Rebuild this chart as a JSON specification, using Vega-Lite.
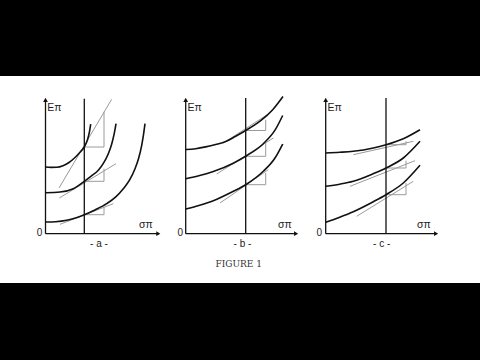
{
  "$schema": "https://vega.github.io/schema/vega-lite/v6.json",
  "background": "black",
  "padding": {"top": 76, "bottom": 77, "left": 0, "right": 0},
  "spacing": 0,
  "bounds": "flush",
  "config": {"view": {"fill": "white", "stroke": null}},
  "resolve": {"scale": {"x": "independent", "y": "independent"}},
  "datasets": {
    "curves": [
      {"panel": "a", "c": 1, "x": 0, "y": 6.67}, {"panel": "a", "c": 1, "x": 0.55, "y": 6.63}, {"panel": "a", "c": 1, "x": 1.15, "y": 6.64}, {"panel": "a", "c": 1, "x": 1.75, "y": 6.8}, {"panel": "a", "c": 1, "x": 2.35, "y": 7.12}, {"panel": "a", "c": 1, "x": 2.95, "y": 7.62}, {"panel": "a", "c": 1, "x": 3.45, "y": 8.15}, {"panel": "a", "c": 1, "x": 3.88, "y": 8.67}, {"panel": "a", "c": 1, "x": 4.2, "y": 9.4}, {"panel": "a", "c": 1, "x": 4.4, "y": 10.2}, {"panel": "a", "c": 1, "x": 4.52, "y": 10.95},
      {"panel": "a", "c": 2, "x": 0, "y": 4.1}, {"panel": "a", "c": 2, "x": 1.45, "y": 4.17}, {"panel": "a", "c": 2, "x": 2.78, "y": 4.5}, {"panel": "a", "c": 2, "x": 3.88, "y": 5.24}, {"panel": "a", "c": 2, "x": 4.6, "y": 5.78}, {"panel": "a", "c": 2, "x": 5.28, "y": 6.34}, {"panel": "a", "c": 2, "x": 5.8, "y": 7.05}, {"panel": "a", "c": 2, "x": 6.28, "y": 8.0}, {"panel": "a", "c": 2, "x": 6.6, "y": 8.9}, {"panel": "a", "c": 2, "x": 6.85, "y": 9.9}, {"panel": "a", "c": 2, "x": 7.05, "y": 11.0},
      {"panel": "a", "c": 3, "x": 0, "y": 1.17}, {"panel": "a", "c": 3, "x": 1.0, "y": 1.2}, {"panel": "a", "c": 3, "x": 2.12, "y": 1.34}, {"panel": "a", "c": 3, "x": 3.0, "y": 1.57}, {"panel": "a", "c": 3, "x": 3.88, "y": 1.9}, {"panel": "a", "c": 3, "x": 5.0, "y": 2.4}, {"panel": "a", "c": 3, "x": 6.12, "y": 3.0}, {"panel": "a", "c": 3, "x": 7.0, "y": 3.65}, {"panel": "a", "c": 3, "x": 7.78, "y": 4.5}, {"panel": "a", "c": 3, "x": 8.4, "y": 5.35}, {"panel": "a", "c": 3, "x": 8.95, "y": 6.5}, {"panel": "a", "c": 3, "x": 9.3, "y": 7.5}, {"panel": "a", "c": 3, "x": 9.62, "y": 8.84}, {"panel": "a", "c": 3, "x": 9.8, "y": 9.9}, {"panel": "a", "c": 3, "x": 9.95, "y": 11.0},
      {"panel": "b", "c": 1, "x": 0, "y": 8.42}, {"panel": "b", "c": 1, "x": 1, "y": 8.5}, {"panel": "b", "c": 1, "x": 2, "y": 8.68}, {"panel": "b", "c": 1, "x": 3, "y": 8.92}, {"panel": "b", "c": 1, "x": 4, "y": 9.22}, {"panel": "b", "c": 1, "x": 5, "y": 9.75}, {"panel": "b", "c": 1, "x": 6, "y": 10.32}, {"panel": "b", "c": 1, "x": 7.5, "y": 11.3}, {"panel": "b", "c": 1, "x": 8.7, "y": 12.4}, {"panel": "b", "c": 1, "x": 9.73, "y": 13.72},
      {"panel": "b", "c": 2, "x": 0, "y": 5.5}, {"panel": "b", "c": 2, "x": 1.4, "y": 5.82}, {"panel": "b", "c": 2, "x": 2.76, "y": 6.22}, {"panel": "b", "c": 2, "x": 4.76, "y": 7.05}, {"panel": "b", "c": 2, "x": 6, "y": 7.74}, {"panel": "b", "c": 2, "x": 7.76, "y": 9.0}, {"panel": "b", "c": 2, "x": 8.93, "y": 10.35}, {"panel": "b", "c": 2, "x": 9.7, "y": 11.82},
      {"panel": "b", "c": 3, "x": 0, "y": 2.47}, {"panel": "b", "c": 3, "x": 1.4, "y": 2.85}, {"panel": "b", "c": 3, "x": 2.76, "y": 3.3}, {"panel": "b", "c": 3, "x": 4.76, "y": 4.24}, {"panel": "b", "c": 3, "x": 6, "y": 4.9}, {"panel": "b", "c": 3, "x": 7.76, "y": 6.24}, {"panel": "b", "c": 3, "x": 8.93, "y": 7.57}, {"panel": "b", "c": 3, "x": 9.7, "y": 8.97},
      {"panel": "c", "c": 1, "x": 0, "y": 8.07}, {"panel": "c", "c": 1, "x": 1.4, "y": 8.14}, {"panel": "c", "c": 1, "x": 2.76, "y": 8.24}, {"panel": "c", "c": 1, "x": 4.76, "y": 8.57}, {"panel": "c", "c": 1, "x": 6.03, "y": 8.9}, {"panel": "c", "c": 1, "x": 7.76, "y": 9.5}, {"panel": "c", "c": 1, "x": 9.43, "y": 10.4},
      {"panel": "c", "c": 2, "x": 0, "y": 4.74}, {"panel": "c", "c": 2, "x": 1.4, "y": 4.95}, {"panel": "c", "c": 2, "x": 2.76, "y": 5.24}, {"panel": "c", "c": 2, "x": 4.76, "y": 6.0}, {"panel": "c", "c": 2, "x": 6.03, "y": 6.57}, {"panel": "c", "c": 2, "x": 7.76, "y": 7.57}, {"panel": "c", "c": 2, "x": 9.43, "y": 9.24},
      {"panel": "c", "c": 3, "x": 0, "y": 1.14}, {"panel": "c", "c": 3, "x": 1.4, "y": 1.65}, {"panel": "c", "c": 3, "x": 2.76, "y": 2.2}, {"panel": "c", "c": 3, "x": 4.76, "y": 3.2}, {"panel": "c", "c": 3, "x": 6.03, "y": 3.9}, {"panel": "c", "c": 3, "x": 7.76, "y": 5.07}, {"panel": "c", "c": 3, "x": 9.43, "y": 6.84}
    ],
    "segs": [
      {"panel": "a", "kind": "axis", "x": 0, "y": 0, "x2": 0, "y2": 13.4},
      {"panel": "a", "kind": "axis", "x": 0, "y": 0, "x2": 11.28, "y2": 0},
      {"panel": "a", "kind": "axis", "x": 3.88, "y": 0, "x2": 3.88, "y2": 13.5},
      {"panel": "b", "kind": "axis", "x": 0, "y": 0, "x2": 0, "y2": 13.4},
      {"panel": "b", "kind": "axis", "x": 0, "y": 0, "x2": 11.04, "y2": 0},
      {"panel": "b", "kind": "axis", "x": 6.0, "y": 0, "x2": 6.0, "y2": 13.57},
      {"panel": "c", "kind": "axis", "x": 0, "y": 0, "x2": 0, "y2": 13.4},
      {"panel": "c", "kind": "axis", "x": 0, "y": 0, "x2": 11.04, "y2": 0},
      {"panel": "c", "kind": "axis", "x": 6.03, "y": 0, "x2": 6.03, "y2": 13.57},
      {"panel": "a", "kind": "gray", "x": 1.35, "y": 4.57, "x2": 6.62, "y2": 13.44},
      {"panel": "a", "kind": "gray", "x": 3.88, "y": 8.67, "x2": 5.85, "y2": 8.67},
      {"panel": "a", "kind": "gray", "x": 5.85, "y": 8.67, "x2": 5.85, "y2": 12.2},
      {"panel": "a", "kind": "gray", "x": 1.38, "y": 3.57, "x2": 7.05, "y2": 7.0},
      {"panel": "a", "kind": "gray", "x": 3.88, "y": 5.24, "x2": 5.85, "y2": 5.24},
      {"panel": "a", "kind": "gray", "x": 5.85, "y": 5.24, "x2": 5.85, "y2": 6.5},
      {"panel": "a", "kind": "gray", "x": 1.45, "y": 0.94, "x2": 6.78, "y2": 3.0},
      {"panel": "a", "kind": "gray", "x": 3.88, "y": 1.9, "x2": 5.85, "y2": 1.9},
      {"panel": "a", "kind": "gray", "x": 5.85, "y": 1.9, "x2": 5.85, "y2": 2.67},
      {"panel": "b", "kind": "gray", "x": 3.76, "y": 9.07, "x2": 8.26, "y2": 11.97},
      {"panel": "b", "kind": "gray", "x": 6.0, "y": 10.32, "x2": 8.0, "y2": 10.32},
      {"panel": "b", "kind": "gray", "x": 8.0, "y": 10.32, "x2": 8.0, "y2": 11.4},
      {"panel": "b", "kind": "gray", "x": 3.1, "y": 5.97, "x2": 8.76, "y2": 9.57},
      {"panel": "b", "kind": "gray", "x": 6.0, "y": 7.74, "x2": 8.0, "y2": 7.74},
      {"panel": "b", "kind": "gray", "x": 8.0, "y": 7.74, "x2": 8.0, "y2": 9.07},
      {"panel": "b", "kind": "gray", "x": 3.43, "y": 3.07, "x2": 8.26, "y2": 6.4},
      {"panel": "b", "kind": "gray", "x": 6.0, "y": 4.9, "x2": 8.0, "y2": 4.9},
      {"panel": "b", "kind": "gray", "x": 8.0, "y": 4.9, "x2": 8.0, "y2": 6.07},
      {"panel": "c", "kind": "gray", "x": 2.76, "y": 7.9, "x2": 8.76, "y2": 9.24},
      {"panel": "c", "kind": "gray", "x": 6.03, "y": 8.9, "x2": 8.03, "y2": 8.9},
      {"panel": "c", "kind": "gray", "x": 8.03, "y": 8.9, "x2": 8.03, "y2": 9.24},
      {"panel": "c", "kind": "gray", "x": 2.43, "y": 4.74, "x2": 8.93, "y2": 7.3},
      {"panel": "c", "kind": "gray", "x": 6.03, "y": 6.57, "x2": 8.03, "y2": 6.57},
      {"panel": "c", "kind": "gray", "x": 8.03, "y": 6.57, "x2": 8.03, "y2": 7.3},
      {"panel": "c", "kind": "gray", "x": 3.1, "y": 1.74, "x2": 8.76, "y2": 5.24},
      {"panel": "c", "kind": "gray", "x": 6.03, "y": 3.9, "x2": 8.03, "y2": 3.9},
      {"panel": "c", "kind": "gray", "x": 8.03, "y": 3.9, "x2": 8.03, "y2": 5.07}
    ],
    "arrows": [
      {"panel": "a", "dir": "up", "x": 0, "y": 13.38}, {"panel": "a", "dir": "right", "x": 11.28, "y": 0},
      {"panel": "b", "dir": "up", "x": 0, "y": 13.38}, {"panel": "b", "dir": "right", "x": 11.04, "y": 0},
      {"panel": "c", "dir": "up", "x": 0, "y": 13.38}, {"panel": "c", "dir": "right", "x": 11.04, "y": 0}
    ],
    "texts": [
      {"panel": "a", "kind": "main", "x": 0.18, "y": 12.3, "text": "Eπ"},
      {"panel": "a", "kind": "main", "x": 9.35, "y": 0.57, "text": "σπ"},
      {"panel": "a", "kind": "zero", "x": -0.6, "y": 0.12, "text": "0"}, {"panel": "a", "kind": "label", "x": 5.35, "y": -0.98, "text": "- a -"},
      {"panel": "b", "kind": "main", "x": 0.18, "y": 12.3, "text": "Eπ"},
      {"panel": "b", "kind": "main", "x": 9.23, "y": 0.57, "text": "σπ"},
      {"panel": "b", "kind": "zero", "x": -0.55, "y": 0.12, "text": "0"}, {"panel": "b", "kind": "label", "x": 5.68, "y": -0.98, "text": "- b -"},
      {"panel": "b", "kind": "fig", "x": 5.3, "y": -2.98, "text": "FIGURE 1"},
      {"panel": "c", "kind": "main", "x": 0.18, "y": 12.3, "text": "Eπ"},
      {"panel": "c", "kind": "main", "x": 9.13, "y": 0.57, "text": "σπ"},
      {"panel": "c", "kind": "zero", "x": -0.65, "y": 0.12, "text": "0"}, {"panel": "c", "kind": "label", "x": 5.6, "y": -0.98, "text": "- c -"}
    ]
  },
  "hconcat": [
    {
      "width": 165, "height": 207,
      "encoding": {
        "x": {"field": "x", "type": "quantitative", "axis": null, "scale": {"domain": [-4.55, 11.95], "nice": false, "zero": false}},
        "y": {"field": "y", "type": "quantitative", "axis": null, "scale": {"domain": [-4.93, 15.77], "nice": false, "zero": false}}
      },
      "layer": [
        {"data": {"name": "segs"}, "transform": [{"filter": "datum.panel == 'a' && datum.kind == 'gray'"}], "mark": {"type": "rule", "color": "#9a9a9a", "strokeWidth": 1}, "encoding": {"x2": {"field": "x2"}, "y2": {"field": "y2"}}},
        {"data": {"name": "segs"}, "transform": [{"filter": "datum.panel == 'a' && datum.kind == 'axis'"}], "mark": {"type": "rule", "color": "#111111", "strokeWidth": 1.3}, "encoding": {"x2": {"field": "x2"}, "y2": {"field": "y2"}}},
        {"data": {"name": "curves"}, "transform": [{"filter": "datum.panel == 'a'"}], "mark": {"type": "line", "color": "#111111", "strokeWidth": 1.6, "interpolate": "monotone"}, "encoding": {"detail": {"field": "c", "type": "nominal"}}},
        {"data": {"name": "arrows"}, "transform": [{"filter": "datum.panel == 'a' && datum.dir == 'up'"}], "mark": {"type": "point", "shape": "triangle-up", "filled": true, "color": "#111111", "size": 22, "opacity": 1}},
        {"data": {"name": "arrows"}, "transform": [{"filter": "datum.panel == 'a' && datum.dir == 'right'"}], "mark": {"type": "point", "shape": "triangle-right", "filled": true, "color": "#111111", "size": 22, "opacity": 1}},
        {"data": {"name": "texts"}, "transform": [{"filter": "datum.panel == 'a' && datum.kind == 'main'"}], "mark": {"type": "text", "font": "Liberation Sans", "fontSize": 10.5, "align": "left", "baseline": "alphabetic", "color": "#222222"}, "encoding": {"text": {"field": "text"}}},
        {"data": {"name": "texts"}, "transform": [{"filter": "datum.panel == 'a' && datum.kind == 'zero'"}], "mark": {"type": "text", "font": "Liberation Sans", "fontSize": 10, "align": "center", "baseline": "middle", "color": "#222222"}, "encoding": {"text": {"field": "text"}}},
        {"data": {"name": "texts"}, "transform": [{"filter": "datum.panel == 'a' && datum.kind == 'label'"}], "mark": {"type": "text", "font": "Liberation Sans", "fontSize": 10, "align": "center", "baseline": "middle", "color": "#222222"}, "encoding": {"text": {"field": "text"}}}
      ]
    },
    {
      "width": 140, "height": 207,
      "encoding": {
        "x": {"field": "x", "type": "quantitative", "axis": null, "scale": {"domain": [-2.07, 11.93], "nice": false, "zero": false}},
        "y": {"field": "y", "type": "quantitative", "axis": null, "scale": {"domain": [-4.93, 15.77], "nice": false, "zero": false}}
      },
      "layer": [
        {"data": {"name": "segs"}, "transform": [{"filter": "datum.panel == 'b' && datum.kind == 'gray'"}], "mark": {"type": "rule", "color": "#9a9a9a", "strokeWidth": 1}, "encoding": {"x2": {"field": "x2"}, "y2": {"field": "y2"}}},
        {"data": {"name": "segs"}, "transform": [{"filter": "datum.panel == 'b' && datum.kind == 'axis'"}], "mark": {"type": "rule", "color": "#111111", "strokeWidth": 1.3}, "encoding": {"x2": {"field": "x2"}, "y2": {"field": "y2"}}},
        {"data": {"name": "curves"}, "transform": [{"filter": "datum.panel == 'b'"}], "mark": {"type": "line", "color": "#111111", "strokeWidth": 1.6, "interpolate": "monotone"}, "encoding": {"detail": {"field": "c", "type": "nominal"}}},
        {"data": {"name": "arrows"}, "transform": [{"filter": "datum.panel == 'b' && datum.dir == 'up'"}], "mark": {"type": "point", "shape": "triangle-up", "filled": true, "color": "#111111", "size": 22, "opacity": 1}},
        {"data": {"name": "arrows"}, "transform": [{"filter": "datum.panel == 'b' && datum.dir == 'right'"}], "mark": {"type": "point", "shape": "triangle-right", "filled": true, "color": "#111111", "size": 22, "opacity": 1}},
        {"data": {"name": "texts"}, "transform": [{"filter": "datum.panel == 'b' && datum.kind == 'main'"}], "mark": {"type": "text", "font": "Liberation Sans", "fontSize": 10.5, "align": "left", "baseline": "alphabetic", "color": "#222222"}, "encoding": {"text": {"field": "text"}}},
        {"data": {"name": "texts"}, "transform": [{"filter": "datum.panel == 'b' && datum.kind == 'zero'"}], "mark": {"type": "text", "font": "Liberation Sans", "fontSize": 10, "align": "center", "baseline": "middle", "color": "#222222"}, "encoding": {"text": {"field": "text"}}},
        {"data": {"name": "texts"}, "transform": [{"filter": "datum.panel == 'b' && datum.kind == 'label'"}], "mark": {"type": "text", "font": "Liberation Sans", "fontSize": 10, "align": "center", "baseline": "middle", "color": "#222222"}, "encoding": {"text": {"field": "text"}}},
        {"data": {"name": "texts"}, "transform": [{"filter": "datum.panel == 'b' && datum.kind == 'fig'"}], "mark": {"type": "text", "font": "DejaVu Serif", "fontSize": 9, "align": "center", "baseline": "middle", "color": "#333333"}, "encoding": {"text": {"field": "text"}}}
      ]
    },
    {
      "width": 175, "height": 207,
      "encoding": {
        "x": {"field": "x", "type": "quantitative", "axis": null, "scale": {"domain": [-2.07, 15.43], "nice": false, "zero": false}},
        "y": {"field": "y", "type": "quantitative", "axis": null, "scale": {"domain": [-4.93, 15.77], "nice": false, "zero": false}}
      },
      "layer": [
        {"data": {"name": "segs"}, "transform": [{"filter": "datum.panel == 'c' && datum.kind == 'gray'"}], "mark": {"type": "rule", "color": "#9a9a9a", "strokeWidth": 1}, "encoding": {"x2": {"field": "x2"}, "y2": {"field": "y2"}}},
        {"data": {"name": "segs"}, "transform": [{"filter": "datum.panel == 'c' && datum.kind == 'axis'"}], "mark": {"type": "rule", "color": "#111111", "strokeWidth": 1.3}, "encoding": {"x2": {"field": "x2"}, "y2": {"field": "y2"}}},
        {"data": {"name": "curves"}, "transform": [{"filter": "datum.panel == 'c'"}], "mark": {"type": "line", "color": "#111111", "strokeWidth": 1.6, "interpolate": "monotone"}, "encoding": {"detail": {"field": "c", "type": "nominal"}}},
        {"data": {"name": "arrows"}, "transform": [{"filter": "datum.panel == 'c' && datum.dir == 'up'"}], "mark": {"type": "point", "shape": "triangle-up", "filled": true, "color": "#111111", "size": 22, "opacity": 1}},
        {"data": {"name": "arrows"}, "transform": [{"filter": "datum.panel == 'c' && datum.dir == 'right'"}], "mark": {"type": "point", "shape": "triangle-right", "filled": true, "color": "#111111", "size": 22, "opacity": 1}},
        {"data": {"name": "texts"}, "transform": [{"filter": "datum.panel == 'c' && datum.kind == 'main'"}], "mark": {"type": "text", "font": "Liberation Sans", "fontSize": 10.5, "align": "left", "baseline": "alphabetic", "color": "#222222"}, "encoding": {"text": {"field": "text"}}},
        {"data": {"name": "texts"}, "transform": [{"filter": "datum.panel == 'c' && datum.kind == 'zero'"}], "mark": {"type": "text", "font": "Liberation Sans", "fontSize": 10, "align": "center", "baseline": "middle", "color": "#222222"}, "encoding": {"text": {"field": "text"}}},
        {"data": {"name": "texts"}, "transform": [{"filter": "datum.panel == 'c' && datum.kind == 'label'"}], "mark": {"type": "text", "font": "Liberation Sans", "fontSize": 10, "align": "center", "baseline": "middle", "color": "#222222"}, "encoding": {"text": {"field": "text"}}}
      ]
    }
  ]
}
